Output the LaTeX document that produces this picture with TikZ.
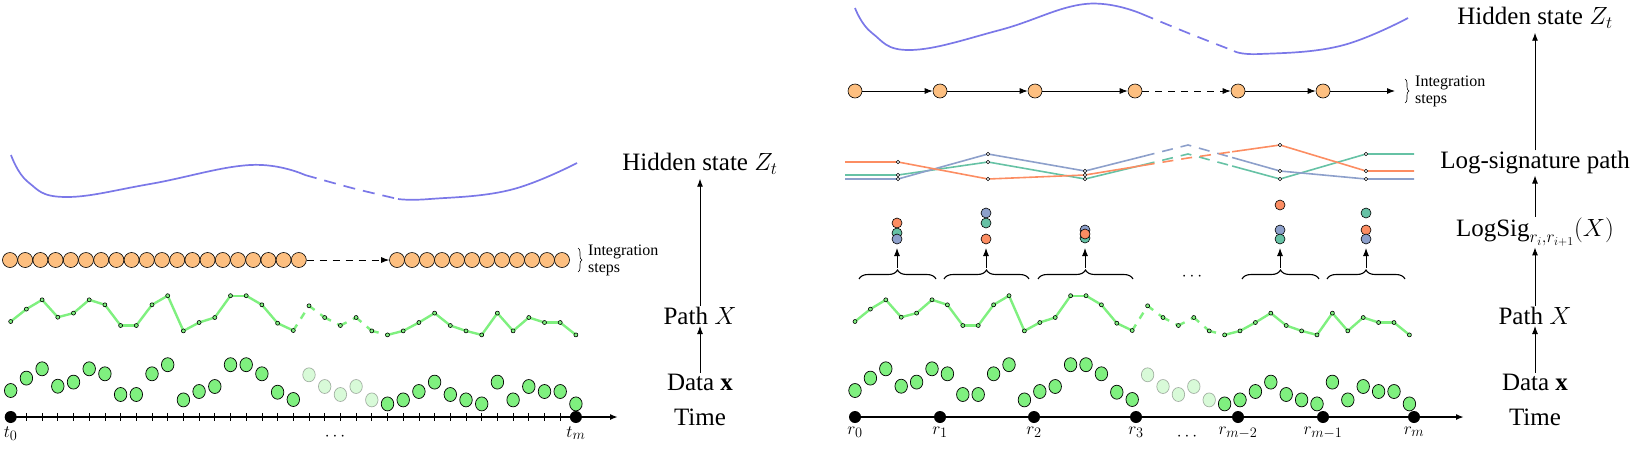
\documentclass[tikz,border=0pt]{standalone}
\usepackage{fontspec}
\setmainfont{Liberation Serif}
\usetikzlibrary{decorations.pathreplacing,arrows.meta,calc,shapes.geometric}
\definecolor{zcol}{HTML}{7B78E8}
\definecolor{ocol}{HTML}{FDBF80}
\definecolor{gcol}{HTML}{7FF07F}
\definecolor{lsO}{HTML}{FC8D62}
\definecolor{lsG}{HTML}{66C2A5}
\definecolor{lsB}{HTML}{8DA0CB}
\tikzset{
  dpt/.style={draw=black,fill=gcol,ellipse,minimum width=12.5pt,minimum height=14pt,inner sep=0pt,line width=0.7pt},
  dfade/.style={dpt,draw opacity=0.3,fill opacity=0.3},
  pdot/.style={circle,draw=black,fill=gcol,minimum size=4pt,inner sep=0pt,line width=0.6pt},
  ocirc/.style={circle,draw=black,fill=ocol,minimum size=15pt,inner sep=0pt,line width=0.6pt},
  ocircs/.style={circle,draw=black,fill=ocol,minimum size=14pt,inner sep=0pt,line width=0.6pt},
  lsdot/.style={circle,draw=black,minimum size=10pt,inner sep=0pt,line width=0.6pt},
  vdot/.style={circle,draw=black,fill=white,minimum size=4pt,inner sep=0pt,line width=0.6pt},
  bdot/.style={circle,fill=black,minimum size=12pt,inner sep=0pt},
  lbl/.style={font=\fontsize{25}{27}\selectfont,inner sep=1pt},
  small/.style={font=\fontsize{16}{17}\selectfont,align=left,anchor=west,inner sep=0pt},
  axlbl/.style={font=\fontsize{19}{20}\selectfont},
  arr/.style={-{Latex[length=8pt,width=6pt]},line width=0.9pt},
  dsh/.style={dash pattern=on 7pt off 6pt},
  zline/.style={zcol,line width=1.7pt},
  pline/.style={gcol,line width=2.4pt},
  lsline/.style={line width=1.6pt},
  mybrace/.style={decorate,decoration={brace,amplitude=9pt},line width=1.1pt},
}
\def\ys{390.5,378.1,368.8,386.2,382.1,368.8,373.8,394.5,394.5,373.8,364.7,399.9,391.5,386.5,364.7,364.7,373.8,392.2,399.5,374.8,386.5,394.5,386.5,399.9,403.9,399.9,391.5,382.1,394.5,399.9,403.9,382.1,399.9,386.5,391.5,391.5,403.9}
\begin{document}
\begin{tikzpicture}[x=1pt,y=-1pt]
\useasboundingbox (0,0) rectangle (1640,448);
\foreach \y [count=\i from 0] in \ys {
  \coordinate (L\i) at ({10.7+15.7*\i},\y);
  \coordinate (R\i) at ({855+15.4*\i},\y);
  \coordinate (LP\i) at ({10.7+15.7*\i},\y-69);
  \coordinate (RP\i) at ({855+15.4*\i},\y-69);
  \coordinate (LT\i) at ({10.7+15.7*\i},417);
}
% ================= LEFT =================
\coordinate (axLend) at (618,417);
\draw[arr,line width=1.6pt] (LT0) -- (axLend);
\foreach \i in {1,...,35}{\draw[line width=0.7pt] ([yshift=4pt]LT\i) -- ([yshift=-4pt]LT\i);}
\node[bdot] (t0) at (LT0) {};
\node[bdot] (tm) at (LT36) {};
\node[axlbl,below=0pt] (t0l) at (t0.south) {$t_0$};
\node[axlbl,below=0pt] (tml) at (tm.south) {$t_m$};
\node[axlbl] (ldots) at (335,437) {$\cdots$};
\foreach \i in {0,...,18,24,25,...,36}{\node[dpt] (ld\i) at (L\i) {};}
\foreach \i in {19,...,23}{\node[dfade] (ld\i) at (L\i) {};}
\foreach \i [evaluate=\i as \j using int(\i+1)] in {0,...,17,24,25,...,35}{\draw[pline] (LP\i) -- (LP\j);}
\foreach \i [evaluate=\i as \j using int(\i+1)] in {18,...,23}{\draw[pline,dash pattern=on 7pt off 7pt] (LP\i) -- (LP\j);}
\foreach \i in {0,...,36}{\node[pdot] (lp\i) at (LP\i) {};}
\foreach \i in {0,...,19}{\node[ocirc] (lo\i) at ({10+15.2*\i},260) {};}
\foreach \i in {0,...,11}{\node[ocirc] (lq\i) at ({397+15*\i},260) {};}
\draw[arr,dsh] (lo19) -- (lq0);
\coordinate (lbt) at (578,248);
\coordinate (lbb) at (578,272);
\draw[decorate,decoration={brace,amplitude=4pt},line width=0.6pt] (lbt) -- (lbb);
\node[small] (lint) at (588,260) {Integration\\steps};
\draw[zline] plot[smooth,tension=0.7] coordinates{(11,155)(28,182)(65,197)(150,184)(250,165)(305,175)};
\draw[zline,dash pattern=on 12pt off 8pt] plot[smooth] coordinates{(305,175)(352,188)(398,199)};
\draw[zline] plot[smooth,tension=0.7] coordinates{(398,199)(430,199)(510,190)(577,163)};
\node[lbl] (lhid) at (700,164) {Hidden state $Z_t$};
\node[lbl] (lpath) at (700,316) {Path $X$};
\node[lbl] (ldata) at (700,382) {Data $\mathbf{x}$};
\node[lbl] (ltime) at (700,417) {Time};
\draw[arr] (lpath.north) -- ([yshift=-3pt]lhid.south);
\draw[arr] (ldata.north) -- (lpath.south);
% ================= RIGHT =================
\coordinate (axRend) at (1464,417);
\draw[arr,line width=1.6pt] (855,417) coordinate (ax0) -- (axRend);
\foreach \x/\l [count=\k] in {855/r_0,940/r_1,1034/r_2,1136/r_3,1238/r_{m-2},1323/r_{m-1},1414/r_m}{
  \node[bdot] (r\k) at (\x,417) {};
  \node[axlbl,below=0pt] (rl\k) at (r\k.south) {$\l$};
}
\node[axlbl] (rdots) at (1187,437) {$\cdots$};
\foreach \i in {0,...,18,24,25,...,36}{\node[dpt] (rd\i) at (R\i) {};}
\foreach \i in {19,...,23}{\node[dfade] (rd\i) at (R\i) {};}
\foreach \i [evaluate=\i as \j using int(\i+1)] in {0,...,17,24,25,...,35}{\draw[pline] (RP\i) -- (RP\j);}
\foreach \i [evaluate=\i as \j using int(\i+1)] in {18,...,23}{\draw[pline,dash pattern=on 7pt off 7pt] (RP\i) -- (RP\j);}
\foreach \i in {0,...,36}{\node[pdot] (rp\i) at (RP\i) {};}
\foreach \a/\b/\c [count=\k] in {859/936/897,944/1029/986,1038/1133/1085,1242/1319/1280,1327/1405/1366}{
  \coordinate (ba\k) at (\a,279);
  \coordinate (bb\k) at (\b,279);
  \coordinate (bt\k) at (\c,268);
  \coordinate (bh\k) at (\c,248);
  \draw[mybrace] (ba\k) -- (bb\k);
  \draw[arr] (bt\k) -- (bh\k);
}
\node[axlbl] (bdots) at (1192,277) {$\cdots$};
\node[lsdot,fill=lsO] at (897,223) {};
\node[lsdot,fill=lsG] at (897,233) {};
\node[lsdot,fill=lsB] at (897,239) {};
\node[lsdot,fill=lsB] at (986,213) {};
\node[lsdot,fill=lsG] at (986,223) {};
\node[lsdot,fill=lsO] at (986,239) {};
\node[lsdot,fill=lsB] at (1085,230) {};
\node[lsdot,fill=lsG] at (1085,238) {};
\node[lsdot,fill=lsO] at (1085,234) {};
\node[lsdot,fill=lsO] at (1280,205) {};
\node[lsdot,fill=lsB] at (1280,230) {};
\node[lsdot,fill=lsG] at (1280,239) {};
\node[lsdot,fill=lsG] at (1366,213) {};
\node[lsdot,fill=lsO] at (1366,230) {};
\node[lsdot,fill=lsB] at (1366,239) {};
\foreach \col/\ya/\yb/\yc/\yd/\ye/\yf/\yg [count=\k] in {lsG/175/175/162/179/154/179/154, lsB/179/179/154/171/145/171/179, lsO/162/162/179/175/158/145/171}{
  \coordinate (s\k a) at (845,\ya);
  \coordinate (s\k b) at (898,\yb);
  \coordinate (s\k c) at (988,\yc);
  \coordinate (s\k d) at (1085,\yd);
  \coordinate (s\k e) at (1188,\ye);
  \coordinate (s\k f) at (1280,\yf);
  \coordinate (s\k g) at (1366,\yg);
  \coordinate (s\k h) at (1414,\yg);
  \draw[lsline,\col] (s\k a) -- (s\k b) -- (s\k c) -- (s\k d) -- ($(s\k d)!0.57!(s\k e)$);
  \draw[lsline,\col,dash pattern=on 11pt off 8pt] ($(s\k d)!0.57!(s\k e)$) -- (s\k e) -- ($(s\k e)!0.48!(s\k f)$);
  \draw[lsline,\col] ($(s\k e)!0.48!(s\k f)$) -- (s\k f) -- (s\k g) -- (s\k h);
}
\foreach \k in {1,2,3}{\foreach \p in {b,c,d,f,g}{\node[vdot,minimum size=3.5pt] at (s\k\p) {};}}
\foreach \x [count=\k] in {855,940,1035,1135,1238,1323}{\node[ocircs] (ro\k) at (\x,91) {};}
\coordinate (roend) at (1395,91);
\draw[arr] (ro1) -- (ro2);
\draw[arr] (ro2) -- (ro3);
\draw[arr] (ro3) -- (ro4);
\draw[arr,dsh] (ro4) -- (ro5);
\draw[arr] (ro5) -- (ro6);
\draw[arr] (ro6) -- (roend);
\coordinate (rbt) at (1405,79);
\coordinate (rbb) at (1405,103);
\draw[decorate,decoration={brace,amplitude=4pt},line width=0.6pt] (rbt) -- (rbb);
\node[small] (rint) at (1415,91) {Integration\\steps};
\draw[zline] plot[smooth,tension=0.7] coordinates{(855,8)(872,33)(911,50)(1000,30)(1085,4)(1142,14)};
\draw[zline,dash pattern=on 12pt off 8pt] plot[smooth] coordinates{(1142,14)(1188,33)(1234,51)};
\draw[zline] plot[smooth,tension=0.7] coordinates{(1234,51)(1260,54)(1340,46)(1408,18)};
\node[lbl] (rhid) at (1535,18) {Hidden state $Z_t$};
\node[lbl] (rls) at (1535,163) {Log-signature path};
\node[lbl] (rlog) at (1535,232) {$\mathrm{LogSig}_{r_i,r_{i+1}}(X)$};
\node[lbl] (rpath) at (1535,316) {Path $X$};
\node[lbl] (rdata) at (1535,382) {Data $\mathbf{x}$};
\node[lbl] (rtime) at (1535,417) {Time};
\draw[arr] (rls.north) -- ([yshift=-3pt]rhid.south);
\draw[arr] (rlog.north) -- (rls.south);
\draw[arr] (rpath.north) -- (rlog.south);
\draw[arr] (rdata.north) -- (rpath.south);
\end{tikzpicture}
\end{document}
